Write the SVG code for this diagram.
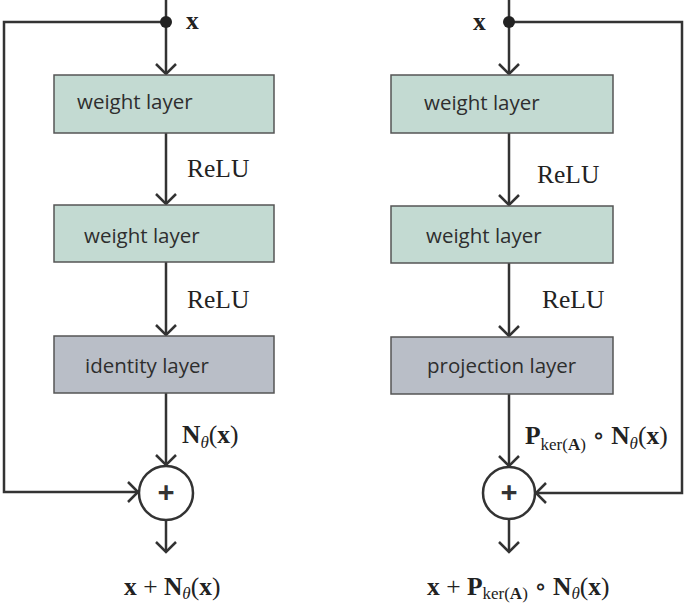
<svg xmlns="http://www.w3.org/2000/svg" width="685" height="605" viewBox="0 0 685 605">
<defs>
<marker id="arr" markerUnits="userSpaceOnUse" markerWidth="24" markerHeight="24" refX="0" refY="0" viewBox="-12 -12 24 24" orient="auto" overflow="visible">
<path d="M-10,-10 L0,0 L-10,10" fill="none" stroke="#333" stroke-width="2.5" stroke-linejoin="miter"/>
</marker>
<style>
.ln{fill:none;stroke:#333;stroke-width:2.5}
.ar{marker-end:url(#arr)}
.g{fill:#c3dad2;stroke:#555;stroke-width:1.5}
.p{fill:#b9bec7;stroke:#555;stroke-width:1.5}
.bt{font-family:"Open Sans","Noto Sans",sans-serif;font-size:20.5px;fill:#2e2e2e}
.m{font-family:"Liberation Serif","DejaVu Serif",serif;font-size:25.5px;fill:#222}
.s{font-size:17px}
.b{font-weight:bold}
.i{font-style:italic}
.c{fill:#fff;stroke:#333;stroke-width:2.5}
.pl{font-family:"Open Sans",sans-serif;font-size:30px;font-weight:bold;fill:#333}
</style>
</defs>
<rect width="685" height="605" fill="#fff"/>
<g id="connectors">
<line class="ln ar" x1="166" y1="0" x2="166" y2="74"/>
<polyline class="ln ar" points="166,22 4,22 4,492 138,492"/>
<line class="ln ar" x1="166" y1="133" x2="166" y2="204"/>
<line class="ln ar" x1="166" y1="262" x2="166" y2="335"/>
<line class="ln ar" x1="166" y1="393" x2="166" y2="465"/>
<line class="ln ar" x1="166" y1="520" x2="166" y2="552"/>
<line class="ln ar" x1="509" y1="0" x2="509" y2="74"/>
<polyline class="ln ar" points="509,22 682,22 682,493 536,493"/>
<line class="ln ar" x1="509" y1="133" x2="509" y2="205"/>
<line class="ln ar" x1="509" y1="263" x2="509" y2="336"/>
<line class="ln ar" x1="509" y1="394" x2="509" y2="466"/>
<line class="ln ar" x1="509" y1="520" x2="509" y2="552"/>
<circle cx="166" cy="22" r="6" fill="#222"/>
<circle cx="509" cy="22" r="6" fill="#222"/>
</g>
<g id="left-wl1"><rect class="g" x="54" y="75" width="220" height="58"/><text class="bt" x="77" y="109">weight layer</text></g>
<g id="left-wl2"><rect class="g" x="54" y="205" width="220" height="57"/><text class="bt" x="84" y="243">weight layer</text></g>
<g id="left-id"><rect class="p" x="54" y="336" width="220" height="57"/><text class="bt" x="85" y="373">identity layer</text></g>
<g id="left-sum"><circle class="c" cx="166" cy="493" r="27"/><text class="pl" x="166" y="503" text-anchor="middle">+</text></g>
<g id="right-wl1"><rect class="g" x="391" y="75" width="222" height="58"/><text class="bt" x="424" y="110">weight layer</text></g>
<g id="right-wl2"><rect class="g" x="391" y="206" width="222" height="57"/><text class="bt" x="426" y="243">weight layer</text></g>
<g id="right-proj"><rect class="p" x="391" y="337" width="222" height="57"/><text class="bt" x="427" y="373">projection layer</text></g>
<g id="right-sum"><circle class="c" cx="509" cy="493" r="26"/><text class="pl" x="509" y="503" text-anchor="middle">+</text></g>
<g id="labels">
<text class="m b" x="186" y="29" font-size="23">x</text>
<text class="m b" x="473" y="30" font-size="23">x</text>
<text class="m" x="187" y="177" font-size="23">ReLU</text>
<text class="m" x="187" y="308" font-size="23">ReLU</text>
<text class="m" x="537" y="183" font-size="23">ReLU</text>
<text class="m" x="542" y="308" font-size="23">ReLU</text>
<text class="m" x="182" y="443"><tspan class="b">N</tspan><tspan class="i s" dy="5">θ</tspan><tspan dy="-5">(</tspan><tspan class="b">x</tspan>)</text>
<text class="m" x="124" y="595"><tspan class="b">x</tspan> + <tspan class="b">N</tspan><tspan class="i s" dy="4">θ</tspan><tspan dy="-4">(</tspan><tspan class="b">x</tspan>)</text>
<text class="m" x="525" y="444"><tspan class="b">P</tspan><tspan class="s" dy="6">ker(<tspan class="b">A</tspan>)</tspan><tspan dy="-6"> ∘ </tspan><tspan class="b">N</tspan><tspan class="i s" dy="5">θ</tspan><tspan dy="-5">(</tspan><tspan class="b">x</tspan>)</text>
<text class="m" x="427" y="595"><tspan class="b">x</tspan> + <tspan class="b">P</tspan><tspan class="s" dy="4">ker(<tspan class="b">A</tspan>)</tspan><tspan dy="-4"> ∘ </tspan><tspan class="b">N</tspan><tspan class="i s" dy="4">θ</tspan><tspan dy="-4">(</tspan><tspan class="b">x</tspan>)</text>
</g>
</svg>
